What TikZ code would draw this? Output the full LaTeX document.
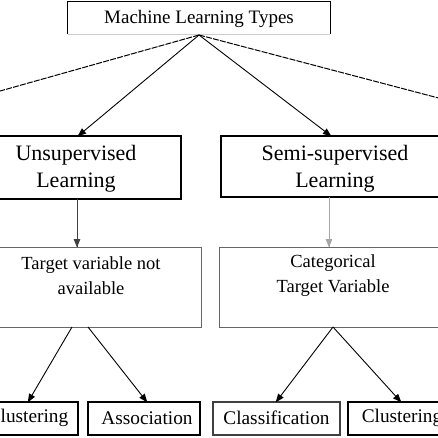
\documentclass[tikz,border=0pt]{standalone}
\usepackage{fontspec}
\setmainfont{Liberation Serif}
\usetikzlibrary{arrows.meta,decorations.markings}
\begin{document}
\begin{tikzpicture}[x=1pt,y=1pt,
  boxshape/.style={draw, rectangle, inner sep=0pt, line width=1.1pt},
  lbl/.style={align=center, inner sep=0pt},
  conn/.style={line width=0.9pt, postaction={decorate},
    decoration={markings, mark=at position 1 with {\fill (0.5pt,0) -- (-8pt,3.4pt) -- (-8pt,-3.4pt) -- cycle;}}},
  dconn/.style={line width=1pt, dash pattern=on 6pt off 1.2pt}
]
\useasboundingbox (0,-438) rectangle (438,0);
\fill[white] (0,-438) rectangle (438,0);
\begin{scope}
\clip (0,-438) rectangle (438,0);

% top box (bottom edge faint)
\node[rectangle, minimum width=262pt, minimum height=32pt, inner sep=0pt] (top) at (199,-18) {};
\draw[line width=0.9pt] (top.south west) -- (top.north west) -- (top.north east) -- (top.south east);
\draw[line width=0.6pt, gray!40] (top.south west) -- (top.south east);
\node[lbl, font=\fontsize{19}{22}\selectfont] (toptxt) at (199,-19) {Machine Learning Types};
\coordinate (apex) at (199,-35);

% second level
\node[boxshape, minimum width=210pt, minimum height=63pt] (uns) at (76,-167.5) {};
\node[lbl, font=\fontsize{22}{27}\selectfont] (unstxt) at (76,-169) {Unsupervised\\Learning};
\node[boxshape, minimum width=228pt, minimum height=61pt] (semi) at (335,-166.5) {};
\node[lbl, font=\fontsize{22}{27}\selectfont] (semitxt) at (335,-169) {Semi-supervised\\Learning};

% off-canvas targets of dashed lines
\coordinate (offl) at (-40,-102.3);
\coordinate (offr) at (478,-108.4);
\draw[dconn] (apex) -- (offl);
\draw[dconn] (apex) -- (offr);

% third level
\node[boxshape, draw=black!60, line width=0.9pt, minimum width=222pt, minimum height=80pt] (tgt) at (90,-287) {};
\node[lbl, font=\fontsize{18.5}{25}\selectfont] (tgttxt) at (91,-276) {Target variable not\\available};
\node[boxshape, draw=black!60, line width=0.9pt, minimum width=228pt, minimum height=80pt] (cat) at (333,-287) {};
\node[lbl, font=\fontsize{18.5}{25}\selectfont] (cattxt) at (333,-276) {Categorical\\Target Variable};

% bottom level
\node[boxshape, minimum width=100pt, minimum height=33pt] (clu1) at (28,-418.5) {};
\node[lbl, font=\fontsize{19.3}{22}\selectfont] (clu1txt) at (28,-418) {Clustering};
\node[boxshape, minimum width=112pt, minimum height=33pt] (asso) at (144,-418.5) {};
\node[lbl, font=\fontsize{19.3}{22}\selectfont] (assotxt) at (147,-418) {Association};
\node[boxshape, draw=black!75, minimum width=127pt, minimum height=33pt] (cls) at (276.5,-418.5) {};
\node[lbl, font=\fontsize{19.3}{22}\selectfont] (clstxt) at (276.5,-418) {Classification};
\node[boxshape, minimum width=108pt, minimum height=33pt] (clu2) at (402,-418.5) {};
\node[lbl, font=\fontsize{19.3}{22}\selectfont] (clu2txt) at (402,-418) {Clustering};
\end{scope}

\coordinate (unsin) at (78,-136);
\coordinate (semiin) at (331,-136);
\draw[conn] (apex) -- (unsin);
\draw[conn] (apex) -- (semiin);

\coordinate (unsout) at (77,-199);
\coordinate (tgtin) at (77,-247);
\coordinate (semiout) at (329,-197);
\coordinate (catin) at (329,-247);
\draw[conn, black!75] (unsout) -- (tgtin);
\draw[conn, black!35] (semiout) -- (catin);

\coordinate (ta) at (72,-327);
\coordinate (tb) at (88,-327);
\coordinate (ca) at (333,-327);
\coordinate (clu1in) at (28,-402);
\coordinate (assoin) at (147,-402);
\coordinate (clsin) at (276,-402);
\coordinate (clu2in) at (401,-402);
\draw[conn] (ta) -- (clu1in);
\draw[conn] (tb) -- (assoin);
\draw[conn] (ca) -- (clsin);
\draw[conn] (ca) -- (clu2in);
\end{tikzpicture}
\end{document}
